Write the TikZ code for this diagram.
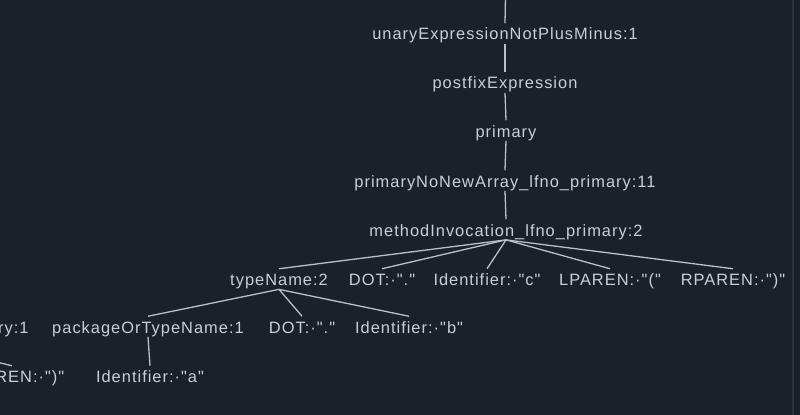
\documentclass[tikz,border=0pt]{standalone}
\usepackage{fontspec}
\newfontfamily\treefont[LetterSpace=6.2]{Liberation Sans}
\definecolor{panelbg}{HTML}{1C2028}
\definecolor{termfg}{HTML}{CACED5}
\definecolor{branchfg}{HTML}{BCC0C8}
\definecolor{panelrule}{HTML}{2D323B}
\tikzset{
  term/.style={text=termfg, font=\treefont\fontsize{14}{16}\selectfont,
    anchor=base, inner xsep=0pt, inner ysep=0.5pt,
    text height=13.6pt, text depth=2.6pt},
  branch/.style={draw=branchfg, line width=1.1pt}
}

\begin{document}
\begin{tikzpicture}[x=0.3mm,y=-0.3mm]
        \fill[panelbg] (0,0) rectangle (800,415);
        \useasboundingbox (0,0) rectangle (800,415);
        \clip (0,0) rectangle (800,415);

        \coordinate (top) at (506,-30);

        \node[term] (unary) at (505,40) {unaryExpressionNotPlusMinus:1};
        \node[term] (postfix) at (505,89) {postfixExpression};
        \node[term] (primary) at (506,137) {primary};
        \node[term] (primaryNNA) at (505,187) {primaryNoNewArray\_lfno\_primary:11};
        \node[term] (methodInv) at (506,236) {methodInvocation\_lfno\_primary:2};

        \node[term] (typeName) at (279,285.5) {typeName:2};
        \node[term] (dotC) at (382,285.5) {DOT:·"."};
        \node[term] (identC) at (487,285.5) {Identifier:·"c"};
        \node[term] (lparen) at (610,285.5) {LPAREN:·"("};
        \node[term] (rparen) at (733,285.5) {RPAREN:·")"};

        \node[term] (leftInv) at (-108,333) {methodInvocation\_lfno\_primary:1};
        \node[term] (pkgName) at (148,333) {packageOrTypeName:1};
        \node[term] (dotB) at (302,333) {DOT:·"."};
        \node[term] (identB) at (409,333) {Identifier:·"b"};

        \node[term] (leftRparen) at (12,382.5) {RPAREN:·")"};
        \node[term] (identA) at (150,382.5) {Identifier:·"a"};

        \draw[branch] (top) -- (unary.north);
        \draw[branch] (unary.south) -- (postfix.north);
        \draw[branch] (postfix.south) -- (primary.north);
        \draw[branch] (primary.south) -- (primaryNNA.north);
        \draw[branch] (primaryNNA.south) -- (methodInv.north);

        \draw[branch] (methodInv.south) -- (typeName.north);
        \draw[branch] (methodInv.south) -- (dotC.north);
        \draw[branch] (methodInv.south) -- (identC.north);
        \draw[branch] (methodInv.south) -- (lparen.north);
        \draw[branch] (methodInv.south) -- (rparen.north);

        \draw[branch] (typeName.south) -- (pkgName.north);
        \draw[branch] (typeName.south) -- (dotB.north);
        \draw[branch] (typeName.south) -- (identB.north);

        \draw[branch] (pkgName.south) -- (identA.north);
        \draw[branch] (leftInv.south) -- (leftRparen.north);

        \draw[panelrule, line width=0.9pt] (793,0) -- (793,415);
    \end{tikzpicture}
\end{document}
